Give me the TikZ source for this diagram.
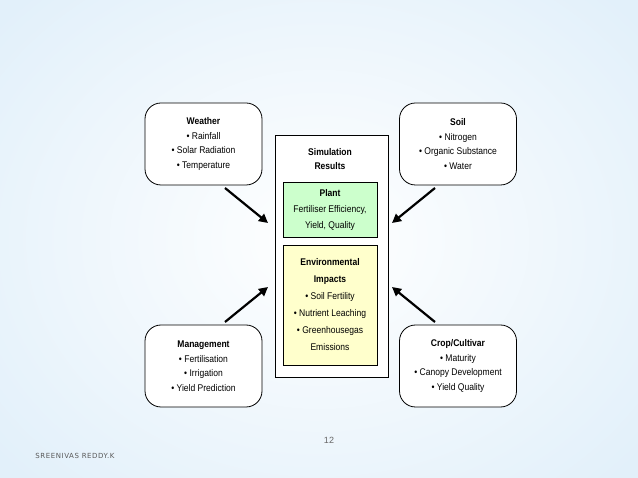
\documentclass[tikz,border=0pt]{standalone}
\usepackage{fontspec}
\setmainfont{Liberation Sans}
\newfontfamily\nar[FakeStretch=0.88]{Liberation Sans}
\newfontfamily\wide[LetterSpace=8]{DejaVu Sans}
\usetikzlibrary{arrows.meta}
\definecolor{bgblue}{RGB}{226,240,250}
\definecolor{plantg}{RGB}{204,255,204}
\definecolor{envy}{RGB}{255,255,204}
\tikzset{
  rbox/.style={draw,thick,rounded corners=16pt,fill=white,minimum width=117pt,minimum height=82pt,align=center,font=\nar\fontsize{9.7}{14.5}\selectfont},
  inbox/.style={draw,thick,minimum width=94pt,align=center,font=\nar\fontsize{9.7}{16}\selectfont},
  bigarrow/.style={-{Triangle[length=9pt,width=9pt]},line width=2.2pt}
}
\begin{document}
\begin{tikzpicture}[x=1pt,y=-1pt]
\useasboundingbox (0,0) rectangle (638,478);
\shade[inner color=white,outer color=bgblue] (-100,-100) rectangle (738,578);
\node[rbox] (w) at (203.5,144) {\textbf{Weather}\\• Rainfall\\• Solar Radiation\\• Temperature};
\node[rbox] (s) at (458,144) {\textbf{Soil}\\• Nitrogen\\• Organic Substance\\• Water};
\node[rbox] (m) at (203.5,366) {\textbf{Management}\\• Fertilisation\\• Irrigation\\• Yield Prediction};
\node[rbox] (c) at (458,366) {\textbf{Crop/Cultivar}\\• Maturity\\• Canopy Development\\• Yield Quality};
\node[draw,thick,fill=white,minimum width=113pt,minimum height=242pt] (sim) at (331.5,256) {};
\node[font=\nar\fontsize{9.7}{14.5}\selectfont\bfseries,align=center] (st) at (330,159) {Simulation\\Results};
\node[inbox,fill=plantg,minimum height=55pt] (p) at (330,209.5) {\textbf{Plant}\\Fertiliser Efficiency,\\Yield, Quality};
\node[inbox,fill=envy,minimum height=120pt,font=\nar\fontsize{9.7}{17}\selectfont] (e) at (330,305) {\textbf{Environmental}\\\textbf{Impacts}\\• Soil Fertility\\• Nutrient Leaching\\• Greenhousegas\\Emissions};
\coordinate (w1) at (225,188); \coordinate (w2) at (268,223);
\coordinate (s1) at (435,188); \coordinate (s2) at (392,223);
\coordinate (m1) at (225,322); \coordinate (m2) at (268,287);
\coordinate (c1) at (435,322); \coordinate (c2) at (392,287);
\draw[bigarrow] (w1) -- (w2);
\draw[bigarrow] (s1) -- (s2);
\draw[bigarrow] (m1) -- (m2);
\draw[bigarrow] (c1) -- (c2);
\node[font=\fontsize{9}{10}\selectfont,text=gray!80!black] (num) at (329,440) {12};
\node[font=\wide\fontsize{7}{9}\selectfont,text=gray!70!black] (auth) at (75,456) {SREENIVAS REDDY.K};
\end{tikzpicture}
\end{document}
